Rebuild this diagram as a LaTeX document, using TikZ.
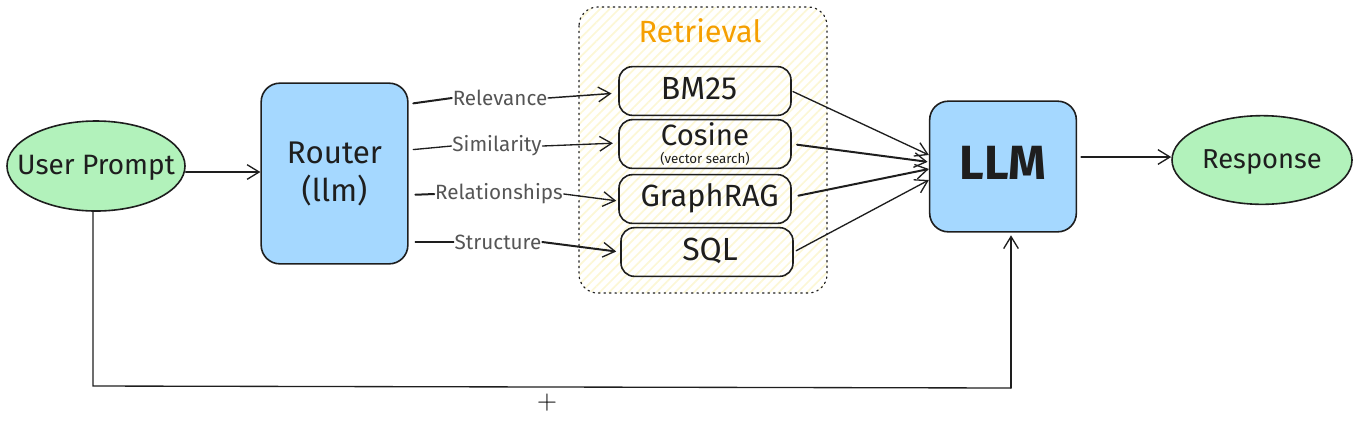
\documentclass[tikz,border=0pt]{standalone}
\usepackage{fontspec}
\setmainfont{Fira Sans}
\usepackage{tikz}
\usetikzlibrary{shapes.geometric, patterns.meta, arrows.meta}
\definecolor{leaf}{RGB}{178, 242, 187}
\definecolor{sky}{RGB}{165, 216, 255}
\definecolor{hatch}{RGB}{252, 247, 214}
\definecolor{amber}{RGB}{245, 159, 0}
\definecolor{ink}{RGB}{30, 30, 30}
\definecolor{soft}{RGB}{85, 85, 85}
\newcommand{\nudged}[3]{\raisebox{#2}[0.7em][0.2em]{\makebox[0pt]{\hspace*{#1}#3}}}
\tikzset{
  oval/.style={ellipse, draw=ink, fill=leaf, line width=1.2pt, inner sep=0pt, text=ink},
  bigbox/.style={draw=ink, fill=sky, rounded corners=14pt, line width=1.2pt, align=center, text=ink},
  method/.style={draw=ink, rounded corners=10pt, line width=1.2pt, minimum width=129pt, minimum height=36.5pt, inner sep=0pt, align=center, text=ink},
  tag/.style={text=soft, font=\fontsize{15.5}{15.5}\selectfont, inner sep=0.5pt},
  link/.style={draw=ink, line width=1pt},
  pointer/.style={link, -{Straight Barb[length=9pt, width=11pt, line width=1pt]}},
  heavy/.style={line width=1.5pt}
}
\begin{document}
\begin{tikzpicture}[x=0.75pt, y=-0.75pt, line cap=round]
  \useasboundingbox (0, 0) rectangle (1358, 430);

  % Retrieval
  \fill [rounded corners=14pt, pattern={Lines[angle=45, distance=5pt, line width=1.3pt]}, pattern color=hatch] (579, 7) rectangle (827, 293);
  \draw [rounded corners=14pt, ink, dash pattern=on 1.1pt off 3pt, line width=0.9pt] (579, 7) rectangle (827, 293);
  \node (retrieval) at (700, 31) [text=amber, font=\fontsize{23}{23}\selectfont] {Retrieval};

  % Boxes
  \node (prompt) at (96, 166) [oval, minimum width=133.5pt, minimum height=67.5pt, font=\fontsize{21}{21}\selectfont] {\nudged{0pt}{-1pt}{User Prompt}};
  \node (router) at (334.5, 173.5) [bigbox, minimum width=110pt, minimum height=135.5pt, font=\fontsize{23.5}{28.5}\selectfont] {Router\\(llm)};
  \node (bm) at (705, 91) [method, font=\fontsize{24}{24}\selectfont] {\nudged{-9pt}{0pt}{BM25}};
  \node (cosine) at (705, 144) [method] {{\fontsize{22}{22}\selectfont Cosine}\\[2pt]{\fontsize{10}{10}\selectfont (vector search)}};
  \node (graph) at (705, 199) [method, font=\fontsize{23}{23}\selectfont] {\nudged{7pt}{0pt}{GraphRAG}};
  \node (sql) at (707, 252) [method, font=\fontsize{24}{24}\selectfont] {\nudged{4.5pt}{0pt}{SQL}};
  \node (llm) at (1003, 166.5) [bigbox, minimum width=110pt, minimum height=98pt, font=\bfseries\fontsize{36}{36}\selectfont] {\raisebox{6pt}{LLM}};
  \node (response) at (1262, 160) [oval, minimum width=135pt, minimum height=66.5pt, font=\fontsize{20.5}{20.5}\selectfont] {\nudged{0pt}{-1pt}{Response}};

  % Labels
  \node (relevance) at (500, 98) [tag] {Relevance};
  \node (similarity) at (497, 146) [tag] {Similarity};
  \node (relations) at (499, 194) [tag] {Relationships};
  \node (structure) at (498, 242) [tag] {Structure};
  \node (plus) at (547, 403) [font=\fontsize{22}{22}\selectfont] {$+$};

  % Corner and ends of the loose lines
  \coordinate (bend) at (93, 386);
  \coordinate (under) at (1011, 388);

  % Arrows
  \draw [pointer, line width=1.3pt] (prompt.east |- 0, 172) -- (router.west |- 0, 172);
  \draw [link, heavy, shorten <=3.5pt] (router.east |- 0, 104) -- (relevance.west);
  \draw [pointer, line width=1.1pt, shorten >=5pt] (relevance.east) -- (bm.west |- 0, 93);
  \draw [link, shorten <=3.5pt] (router.east |- 0, 150) -- (similarity.west);
  \draw [pointer, shorten >=4pt] (similarity.east) -- (cosine.west |- 0, 143);
  \draw [link, heavy, shorten <=5pt] (router.east |- 0, 195) -- (relations.west);
  \draw [pointer, shorten >=1.5pt] (relations.east) -- (graph.west |- 0, 201);
  \draw [link, shorten <=5pt] (router.east |- 0, 242) -- (structure.west);
  \draw [pointer, heavy, shorten >=3pt] (structure.east) -- (sql.west |- 0, 252);
  \draw [pointer, shorten <=1pt] (bm.east) -- (llm.west |- 0, 155);
  \draw [pointer, heavy, shorten <=4pt, shorten >=1pt] (cosine.east) -- (llm.west |- 0, 162);
  \draw [pointer, heavy, shorten <=5pt] (graph.east |- 0, 197) -- (llm.west |- 0, 169);
  \draw [pointer, shorten <=2pt] (sql.east) -- (llm.west |- 0, 180);
  \draw [pointer, shorten <=3pt] (llm.east |- 0, 157) -- (response.west |- 0, 157);
  \draw [link] (prompt.south -| bend) -- (bend) -- (under);
  \draw [pointer, shorten >=2pt] (under) -- (llm.south -| under);
\end{tikzpicture}
\end{document}
